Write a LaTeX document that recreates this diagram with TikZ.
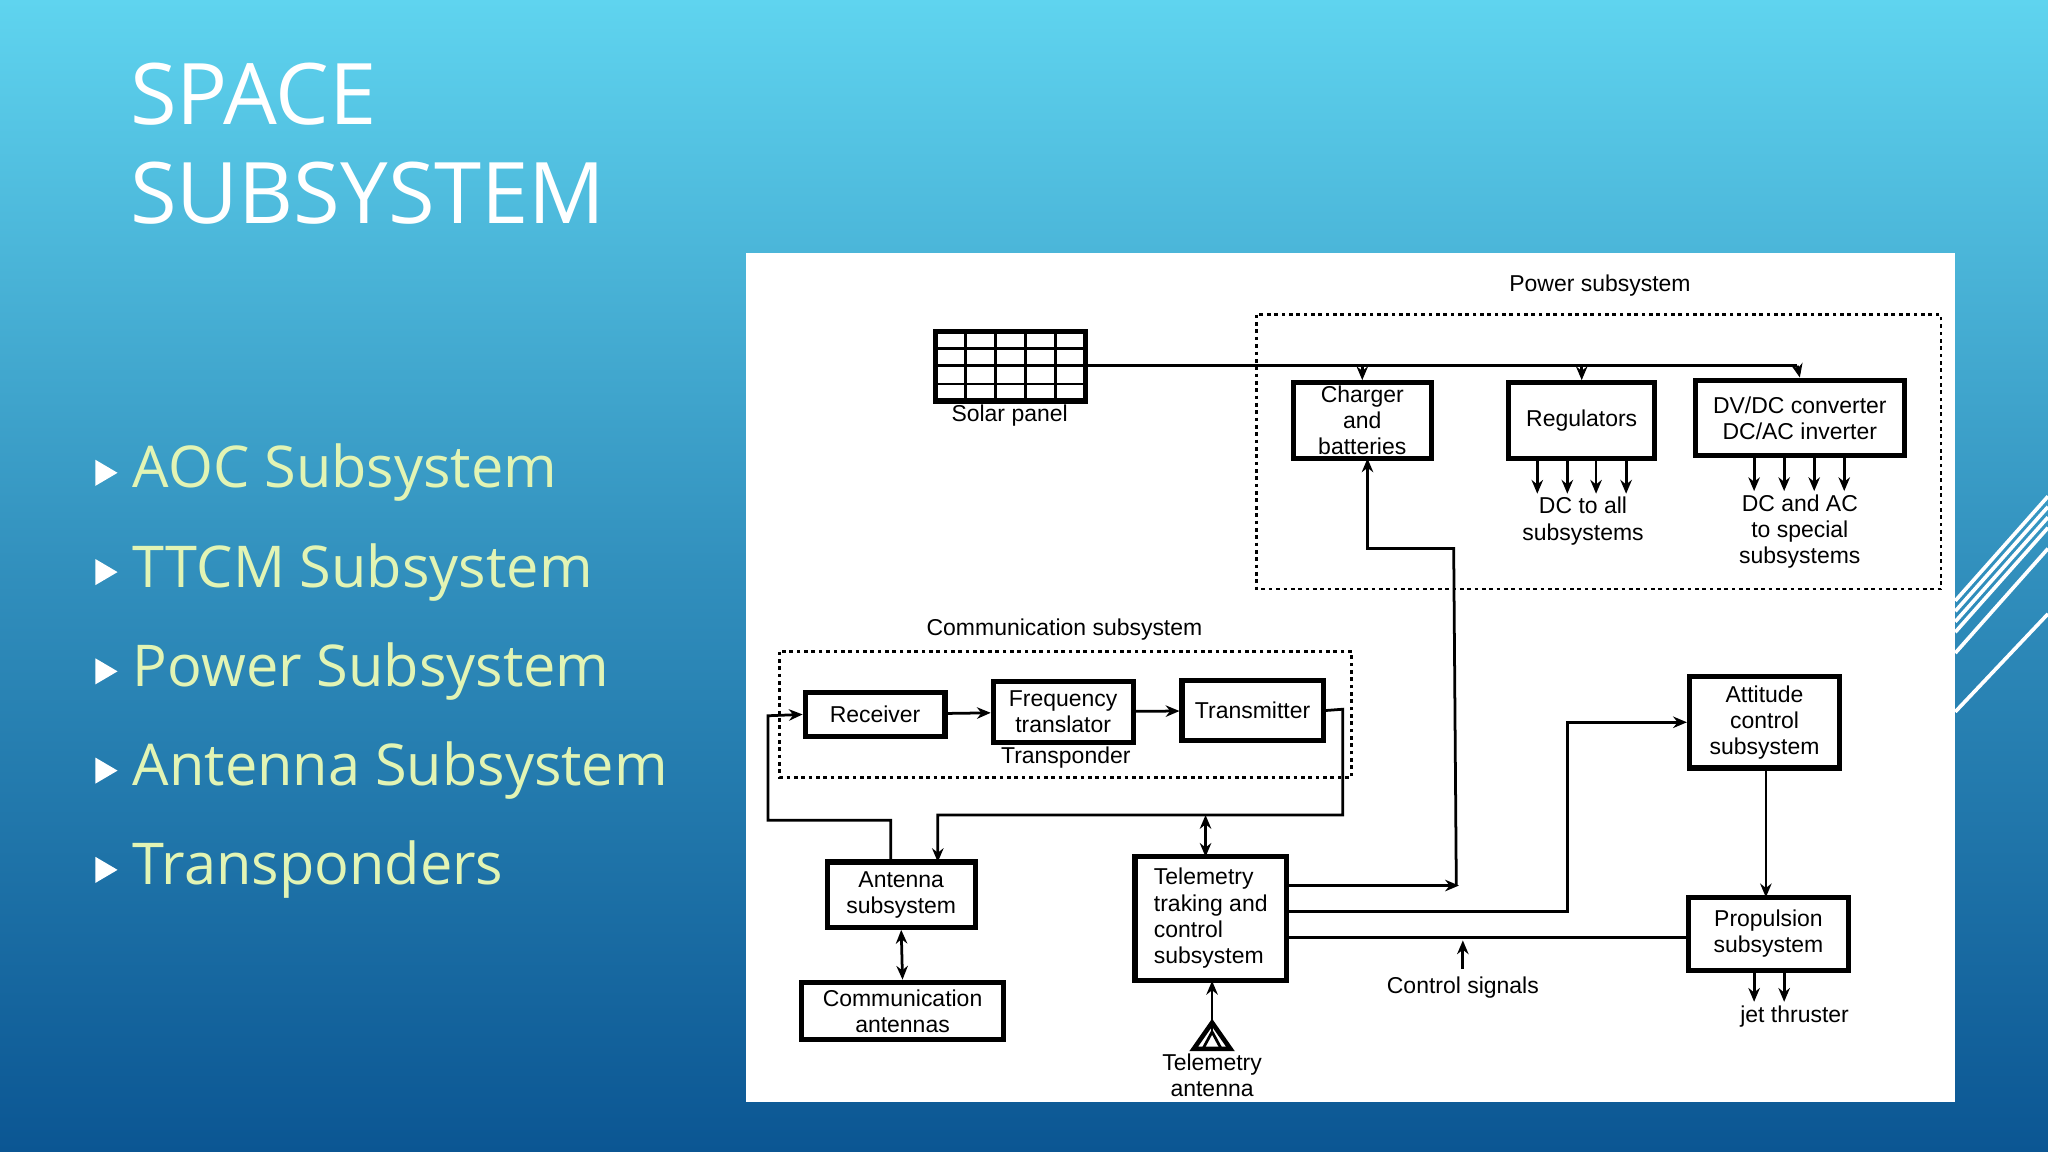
\documentclass[tikz,border=0pt]{standalone}
\usepackage{fontspec}
\setmainfont{Liberation Sans}
\newfontfamily\titlefont{Open Sans}
\usetikzlibrary{arrows.meta}
\begin{document}
\begin{tikzpicture}[x=0.01cm,y=-0.01cm,
  box/.style={draw,line width=1.1pt,align=center,font=\fontsize{5}{5.7}\selectfont,inner sep=0.5pt},
  lbl/.style={align=center,font=\fontsize{5}{5.7}\selectfont,inner sep=0pt},
  ln/.style={line width=0.6pt},
  ar/.style={ln,-{Stealth[length=3pt,width=2.5pt]}},
  dar/.style={ln,{Stealth[length=3pt,width=2.5pt]}-{Stealth[length=3pt,width=2.5pt]}},
  dot/.style={line width=0.6pt,dash pattern=on 0.8pt off 0.8pt},
  bul/.style={anchor=west,text=bulletc,font=\titlefont\fontsize{12.55}{15}\selectfont,inner sep=0pt}]
\definecolor{topc}{HTML}{5FD4EF}
\definecolor{botc}{HTML}{0B5693}
\definecolor{bulletc}{HTML}{E2F4B4}
\def\u{0.2845pt}
\useasboundingbox (0,0) rectangle (1568,882);
\shade[top color=topc,bottom color=botc,middle color=topc!45!botc] (0,0) rectangle (1568,882);
% decoration
\foreach \d in {0,8,16,24,40}
  \draw[white,line width=0.8pt] (1497,460+\d) -- (1568,380+\d);
\draw[white,line width=0.8pt] (1497,545) -- (1568,470);
% title
\node[anchor=west,text=white,font=\titlefont\fontsize{18.5}{22}\selectfont,inner sep=0pt] (t1) at (99,72) {SPACE};
\node[anchor=west,text=white,font=\titlefont\fontsize{18.5}{22}\selectfont,inner sep=0pt] (t2) at (99,148) {SUBSYSTEM};
% bullets
\foreach \t/\y [count=\i] in {AOC Subsystem/362,TTCM Subsystem/438,Power Subsystem/514,Antenna Subsystem/590,Transponders/666}{
  \fill[white] (73,\y-10) -- (90,\y) -- (73,\y+10) -- cycle;
  \node[bul] (b\i) at (101,\y) {\t};
}
% panel
\fill[white] (571,194) rectangle (1497,844);
% solar panel
\draw[line width=1.1pt] (716,254) rectangle (831,307);
\foreach \x in {739,762,785,808} \draw[ln] (\x,254) -- (\x,307);
\foreach \y in {267,280,294} \draw[ln] (716,\y) -- (831,\y);
\coordinate (sp) at (831,280);
\node[lbl] (spl) at (773,318) {Solar panel};
% power subsystem
\draw[dot] (962,241) rectangle (1486,451);
\node[lbl] (pwl) at (1225,219) {Power subsystem};
\node[box,minimum width=106*\u,minimum height=58*\u] (ch) at (1043,322) {Charger\\and\\batteries};
\node[box,minimum width=112*\u,minimum height=58*\u] (reg) at (1211,322) {Regulators};
\node[box,minimum width=160*\u,minimum height=58*\u] (dv) at (1378,320) {DV/DC converter\\DC/AC inverter};
\draw[ln] (sp) -- (1376,280);
\draw[ar] (1043,280) -- (ch.north);
\draw[ar] (1211,280) -- (reg.north);
\draw[ar] (1376,280) -- (dv.north);
\foreach \x in {1177,1200,1222,1245} \draw[ar] (\x,351) -- (\x,378);
\foreach \x in {1343,1366,1389,1412} \draw[ar] (\x,349) -- (\x,376);
\node[lbl] (dc1) at (1212,399) {DC to all\\subsystems};
\node[lbl] (dc2) at (1378,407) {DC and AC\\to special\\subsystems};
% communication subsystem
\draw[dot] (597,499) rectangle (1035,595);
\node[lbl] (cml) at (815,482) {Communication subsystem};
\node[box,minimum width=107*\u,minimum height=34*\u] (rx) at (670,547) {Receiver};
\node[box,minimum width=107*\u,minimum height=47*\u] (ft) at (814,545) {Frequency\\translator};
\node[box,minimum width=108*\u,minimum height=46*\u] (tx) at (959,544) {Transmitter};
\node[lbl] (tp) at (816,580) {Transponder};
\draw[ar] (rx) -- (ft);
\draw[ar] (ft) -- (tx);
% lower boxes
\node[box,minimum width=113*\u,minimum height=50*\u] (ant) at (690,685) {Antenna\\subsystem};
\node[box,minimum width=155*\u,minimum height=44*\u] (ca) at (691,774) {Communication\\antennas};
\node[box,align=left,minimum width=116*\u,minimum height=95*\u] (tm) at (927,703) {Telemetry\\traking and\\control\\subsystem};
\node[box,minimum width=115*\u,minimum height=70*\u] (att) at (1351,553) {Attitude\\control\\subsystem};
\node[box,minimum width=122*\u,minimum height=56*\u] (pr) at (1354,715) {Propulsion\\subsystem};
% connectors
\draw[ar] (682,660) -- (682,628) -- (588,628) -- (588,548) -- (rx.west);
\draw[ar] (tx.east) -- (1028,543) -- (1028,624) -- (718,624) -- (718,660);
\draw[dar] (923,624) -- (923,656);
\draw[dar] (ant.south) -- (ca.north);
\draw[ar] (985,678) -- (1117,678);
\draw[ar] (1115,678) -- (1113,420) -- (1047,420) -- (1047,351);
\draw[ar] (985,698) -- (1200,698) -- (1200,553) -- (att.west);
\draw[ar] (1352,588) -- (1352,687);
\draw[ln] (985,718) -- (1293,718);
\draw[ar] (1120,742) -- (1120,720);
\node[lbl] (cs) at (1120,756) {Control signals};
\foreach \x in {1343,1366} \draw[ar] (\x,743) -- (\x,767);
\node[lbl] (jt) at (1374,778) {jet thruster};
% telemetry antenna
\draw[line width=1pt] (914,803) -- (928,783) -- (942,803) -- cycle;
\draw[ln] (921,803) -- (928,790) -- (935,803);
\draw[ar] (928,790) -- (928,751);
\node[lbl] (ta) at (928,823) {Telemetry\\antenna};
\end{tikzpicture}
\end{document}
